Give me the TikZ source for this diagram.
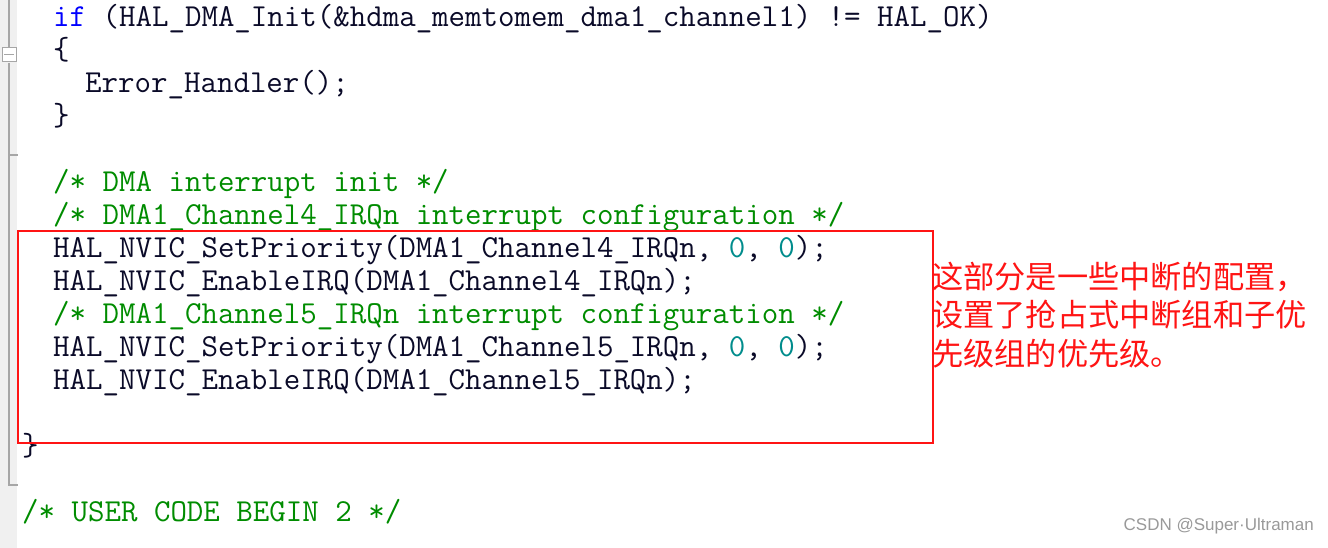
\documentclass[tikz,border=0pt]{standalone}
\usepackage{fontspec}
\newfontfamily\cjk{Noto Sans CJK SC}
\newfontfamily\wm{Liberation Sans}
\definecolor{kw}{RGB}{0,0,255}
\definecolor{cm}{RGB}{0,140,0}
\definecolor{nm}{RGB}{0,140,140}
\definecolor{tx}{RGB}{10,10,40}
\definecolor{gut}{RGB}{240,240,240}
\definecolor{rb}{RGB}{255,20,20}
\begin{document}
\begin{tikzpicture}[x=1pt,y=-1pt,
  code/.style={anchor=mid west,inner sep=0pt,font=\ttfamily\fontsize{32}{32}\selectfont,text=tx},
  note/.style={anchor=mid west,inner sep=0pt,font=\cjk\fontsize{31.2}{31.2}\selectfont,text=rb}]
\useasboundingbox (0,0) rectangle (1328,548);
\fill[gut] (0,0) rectangle (17,548);
\draw[gray!70,line width=1.2] (9,0) -- (9,47) (9,63) -- (9,485) -- (18,485);
\draw[gray!70,line width=1.2] (9,155) -- (18,155);
\node[draw=gray!70,fill=white,line width=1,minimum size=14,inner sep=0] (fold) at (9,55) {};
\draw[gray!70,line width=1] (4,55) -- (14,55);
\node[code] (l1) at (53,24) {\textcolor{kw}{if} (HAL\_DMA\_Init(\&hdma\_memtomem\_dma1\_channel1) != HAL\_OK)};
\node[code] (l2) at (53,57) {\{};
\node[code] (l3) at (85,90) {Error\_Handler();};
\node[code] (l4) at (53,123) {\}};
\node[code,text=cm] (l5) at (53,189) {/* DMA interrupt init */};
\node[code,text=cm] (l6) at (53,222) {/* DMA1\_Channel4\_IRQn interrupt configuration */};
\node[code] (l7) at (53,255) {HAL\_NVIC\_SetPriority(DMA1\_Channel4\_IRQn, \textcolor{nm}{0}, \textcolor{nm}{0});};
\node[code] (l8) at (53,288) {HAL\_NVIC\_EnableIRQ(DMA1\_Channel4\_IRQn);};
\node[code,text=cm] (l9) at (53,321) {/* DMA1\_Channel5\_IRQn interrupt configuration */};
\node[code] (l10) at (53,354) {HAL\_NVIC\_SetPriority(DMA1\_Channel5\_IRQn, \textcolor{nm}{0}, \textcolor{nm}{0});};
\node[code] (l11) at (53,387) {HAL\_NVIC\_EnableIRQ(DMA1\_Channel5\_IRQn);};
\node[code] (l12) at (22,453) {\}};
\node[code,text=cm] (l13) at (22,519) {/* USER CODE BEGIN 2 */};
\draw[rb,line width=2.2] (18,231) rectangle (933,443);
\node[note] (n1) at (932,286) {这部分是一些中断的配置，};
\node[note] (n2) at (932,324) {设置了抢占式中断组和子优};
\node[note] (n3) at (932,363) {先级组的优先级。};
\node[anchor=mid east,inner sep=0pt,font=\wm\fontsize{17}{17}\selectfont,text=gray!80] (wmk) at (1314,528) {CSDN @Super·Ultraman};
\end{tikzpicture}
\end{document}
